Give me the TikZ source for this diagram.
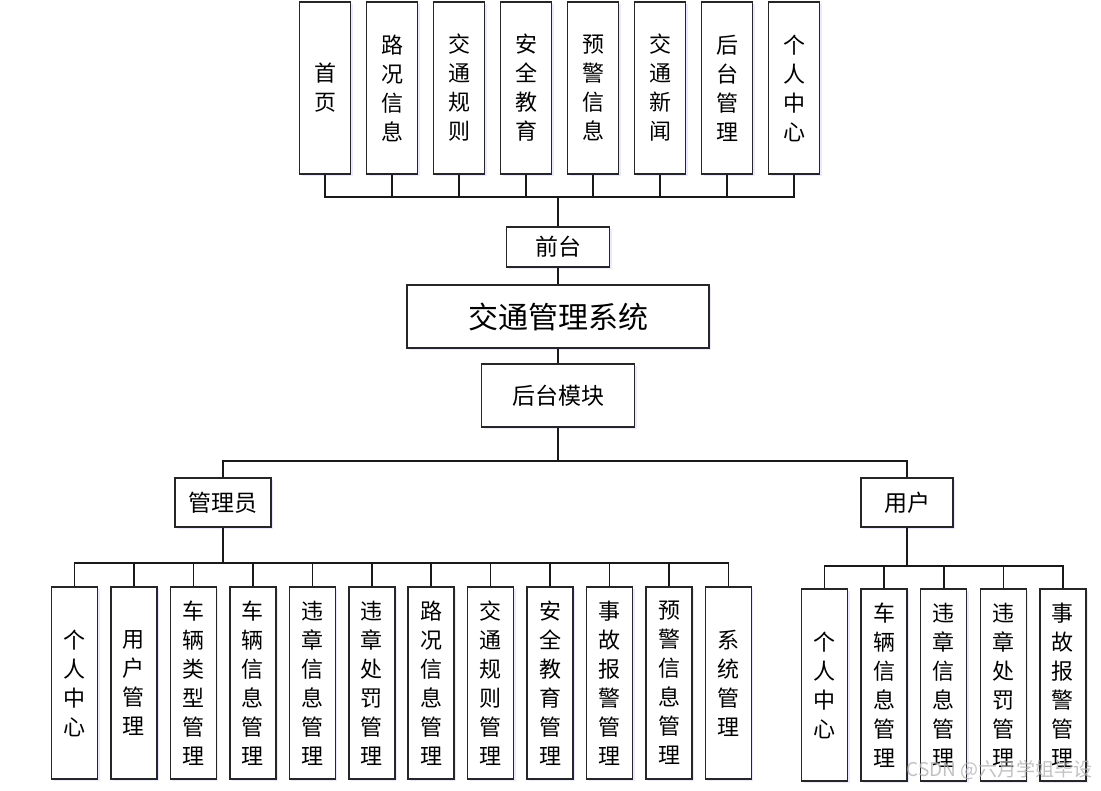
\documentclass[tikz,border=0pt]{standalone}
\usepackage{fontspec}
\newfontfamily\cjk{Noto Sans CJK SC}
\usetikzlibrary{shadows}
\begin{document}
\begin{tikzpicture}[x=1pt,y=-1pt,
  line width=1.6pt,
  box/.style={draw=black!85, fill=white, line width=1.5pt, inner sep=0pt, align=center,
    drop shadow={shadow xshift=2pt, shadow yshift=-2pt, fill=blue!25, opacity=0.35}},
  vbox/.style={box, minimum width=#1, font=\cjk\fontsize{22}{29}\selectfont},
  topbox/.style={vbox=51pt, minimum height=172pt},
  lowbox/.style={vbox=46pt, minimum height=192pt},
  hbox/.style={box, font=\cjk\fontsize{23}{26}\selectfont},
  wire/.style={draw=black!90, line width=1.6pt}
]
\useasboundingbox (0,0) rectangle (1101,791);

% top row
\foreach \n/\t [count=\i from 0] in {t1/首\\页, t2/路\\况\\信\\息, t3/交\\通\\规\\则, t4/安\\全\\教\\育, t5/预\\警\\信\\息, t6/交\\通\\新\\闻, t7/后\\台\\管\\理, t8/个\\人\\中\\心}
  \node[topbox] (\n) at ({325+67*\i},88) {\t};

\coordinate (tb) at (558,197);
\node[hbox, minimum width=103pt, minimum height=40pt] (qt) at (558,247) {前台};
\node[box, minimum width=302pt, minimum height=63pt, font=\cjk\fontsize{30}{32}\selectfont] (sys) at (558,316.5) {交通管理系统};
\node[hbox, minimum width=153pt, minimum height=63pt] (ht) at (558,395.5) {后台模块};
\coordinate (mb) at (558,461);
\node[hbox, minimum width=96pt, minimum height=49pt] (adm) at (223,502.5) {管理员};
\node[hbox, minimum width=92pt, minimum height=49pt] (usr) at (907,502.5) {用户};
\coordinate (ab) at (223,563);
\coordinate (ub) at (907,566);

% admin row
\foreach \n/\t [count=\i from 0] in {a1/个\\人\\中\\心, a2/用\\户\\管\\理, a3/车\\辆\\类\\型\\管\\理, a4/车\\辆\\信\\息\\管\\理, a5/违\\章\\信\\息\\管\\理, a6/违\\章\\处\\罚\\管\\理, a7/路\\况\\信\\息\\管\\理, a8/交\\通\\规\\则\\管\\理, a9/安\\全\\教\\育\\管\\理, a10/事\\故\\报\\警\\管\\理, a11/预\\警\\信\\息\\管\\理, a12/系\\统\\管\\理}
  \node[lowbox] (\n) at ({74.5+59.45*\i},683) {\t};

% user row
\foreach \n/\t [count=\i from 0] in {u1/个\\人\\中\\心, u2/车\\辆\\信\\息\\管\\理, u3/违\\章\\信\\息\\管\\理, u4/违\\章\\处\\罚\\管\\理, u5/事\\故\\报\\警\\管\\理}
  \node[lowbox] (\n) at ({824.5+59.6*\i},685) {\t};

% wires
\foreach \n in {t1,t2,t3,t4,t5,t6,t7,t8}
  \draw[wire] (\n.south) |- (tb);
\draw[wire] (tb) -- (qt.north);
\draw[wire] (qt.south) -- (sys.north);
\draw[wire] (sys.south) -- (ht.north);
\draw[wire] (ht.south) -- (mb);
\draw[wire] (mb) -| (adm.north);
\draw[wire] (mb) -| (usr.north);
\draw[wire] (adm.south) -- (ab);
\foreach \n in {a1,a2,a3,a4,a5,a6,a7,a8,a9,a10,a11,a12}
  \draw[wire] (ab) -| (\n.north);
\draw[wire] (usr.south) -- (ub);
\foreach \n in {u1,u2,u3,u4,u5}
  \draw[wire] (ub) -| (\n.north);

% watermark
\node[text=black!30, opacity=0.8, font=\cjk\fontsize{19}{22}\selectfont, anchor=east] (wm) at (1097,770) {CSDN @六月学姐毕设};
\end{tikzpicture}
\end{document}
